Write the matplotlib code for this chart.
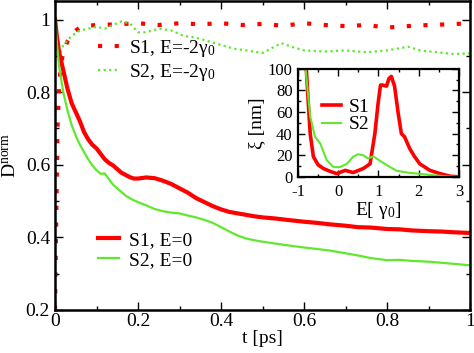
#!/usr/bin/env python3
"""
Normalised diffusion D(t) for S1/S2 at two energies, with xi(E) inset.
"""

import matplotlib
matplotlib.use("Agg")
import matplotlib.pyplot as plt
from matplotlib.ticker import MultipleLocator

plt.rcParams["font.family"] = ["Liberation Serif", "DejaVu Serif"]
plt.rcParams["mathtext.fontset"] = "custom"
plt.rcParams["mathtext.rm"] = "Liberation Serif"
plt.rcParams["mathtext.it"] = "Liberation Serif:italic"

RED = "#ff0000"
GREEN = "#5fe82e"

# --- main panel: E = 0 ---
t_e0 = [0, 0.005, 0.01, 0.02, 0.03, 0.04, 0.05, 0.06, 0.07, 0.08, 0.09,
        0.10, 0.11, 0.12, 0.13, 0.14, 0.15, 0.16, 0.17, 0.18, 0.19, 0.20,
        0.22, 0.24, 0.26, 0.28, 0.30, 0.32, 0.34, 0.36, 0.38, 0.40, 0.42,
        0.44, 0.46, 0.48, 0.50, 0.53, 0.56, 0.60, 0.63, 0.66, 0.70, 0.73,
        0.76, 0.80, 0.83, 0.86, 0.90, 0.93, 0.96, 1.0]
s1_e0 = [1.0, 0.95, 0.91, 0.86, 0.81, 0.77, 0.745, 0.72, 0.69, 0.67, 0.655,
         0.645, 0.63, 0.615, 0.605, 0.598, 0.588, 0.578, 0.572, 0.566, 0.562,
         0.562, 0.565, 0.563, 0.556, 0.547, 0.535, 0.523, 0.508, 0.497,
         0.486, 0.477, 0.47, 0.466, 0.462, 0.458, 0.455, 0.452, 0.448, 0.443,
         0.44, 0.436, 0.432, 0.428, 0.427, 0.423, 0.422, 0.419, 0.417, 0.416,
         0.414, 0.412]
s2_e0 = [1.0, 0.93, 0.87, 0.80, 0.75, 0.71, 0.68, 0.655, 0.635, 0.615, 0.598,
         0.585, 0.575, 0.576, 0.56, 0.545, 0.535, 0.525, 0.515, 0.508, 0.502,
         0.497, 0.488, 0.478, 0.472, 0.468, 0.466, 0.46, 0.455, 0.448, 0.44,
         0.428, 0.416, 0.405, 0.397, 0.392, 0.388, 0.383, 0.378, 0.372,
         0.368, 0.364, 0.356, 0.35, 0.343, 0.337, 0.338, 0.335, 0.333, 0.33,
         0.327, 0.323]

# --- main panel: E = -2 gamma0 ---
t_em2 = [0, 0.003, 0.006, 0.01, 0.015, 0.02, 0.03, 0.04, 0.05, 0.06, 0.08,
         0.10, 0.15, 0.20, 0.25, 0.30, 0.35, 0.40, 0.45, 0.50, 0.55, 0.60,
         0.65, 0.70, 0.75, 0.80, 0.85, 0.90, 0.95, 1.0]
s1_em2 = [0.2, 0.45, 0.7, 0.82, 0.88, 0.91, 0.94, 0.96, 0.97, 0.978, 0.983,
          0.985, 0.987, 0.99, 0.985, 0.99, 0.987, 0.99, 0.985, 0.988, 0.983,
          0.99, 0.985, 0.982, 0.985, 0.978, 0.982, 0.985, 0.987, 0.99]
t_s2m2 = [0, 0.01, 0.02, 0.04, 0.06, 0.08, 0.10, 0.12, 0.14, 0.16, 0.18,
          0.20, 0.22, 0.25, 0.28, 0.31, 0.34, 0.37, 0.40, 0.43, 0.46, 0.50,
          0.52, 0.545, 0.57, 0.60, 0.65, 0.70, 0.75, 0.80, 0.85, 0.88, 0.92,
          0.96, 1.0]
s2_em2 = [0.95, 0.9, 0.93, 0.955, 0.97, 0.975, 0.98, 0.975, 0.985, 0.995,
          0.99, 0.965, 0.965, 0.975, 0.97, 0.955, 0.95, 0.94, 0.93, 0.92,
          0.915, 0.908, 0.92, 0.935, 0.925, 0.915, 0.912, 0.915, 0.91, 0.915,
          0.925, 0.915, 0.91, 0.905, 0.907]

# --- inset: xi(E) ---
e_s1 = [-0.8, -0.75, -0.7, -0.62, -0.5, -0.37, -0.2, -0.04, 0.17, 0.37,
        0.62, 0.79, 0.91, 0.99, 1.05, 1.1, 1.2, 1.26, 1.32, 1.4, 1.49, 1.57,
        1.65, 1.78, 1.9, 2.03, 2.28, 2.53, 2.78, 3.0]
xi_s1 = [102, 70, 40, 18.6, 11, 7.7, 5, 3, 6, 4, 7.7, 12, 40, 68, 85, 85,
         84, 91, 93, 84, 59, 40, 37, 26, 18.6, 12, 6, 3, 0.6, 0]
e_s2 = [-0.82, -0.75, -0.7, -0.58, -0.45, -0.29, -0.12, 0.04, 0.21, 0.37,
        0.5, 0.62, 0.74, 0.87, 0.99, 1.2, 1.45, 1.78, 2.11, 2.45, 2.78, 3.0]
xi_s2 = [102, 75, 56, 37, 31, 15.5, 9, 9, 12, 18.6, 21, 20, 17, 19, 16, 11,
         5.6, 3.7, 2.5, 1.2, 0.3, 0]


def plain(v, _pos):
    return f"{v:g}"


def main() -> None:
    fig = plt.figure(figsize=(4.74, 3.53), dpi=100)
    ax = fig.add_axes([0.116, 0.122, 0.876, 0.876])

    l1, = ax.plot(t_em2, s1_em2, color=RED, lw=3, ls=(0, (1, 3)),
                  label="S1, E=-2γ$_0$")
    l2, = ax.plot(t_s2m2, s2_em2, color=GREEN, lw=1.6, ls=(0, (1, 1.5)),
                  label="S2, E=-2γ$_0$")
    l3, = ax.plot(t_e0, s1_e0, color=RED, lw=3, label="S1, E=0")
    l4, = ax.plot(t_e0, s2_e0, color=GREEN, lw=1.6, label="S2, E=0")

    ax.set_xlim(0, 1)
    ax.set_ylim(0.2, 1.052)
    ax.xaxis.set_major_locator(MultipleLocator(0.2))
    ax.xaxis.set_minor_locator(MultipleLocator(0.1))
    ax.yaxis.set_major_locator(MultipleLocator(0.2))
    ax.yaxis.set_minor_locator(MultipleLocator(0.1))
    ax.xaxis.set_major_formatter(plain)
    ax.yaxis.set_major_formatter(plain)
    ax.tick_params(which="both", direction="in", top=True, right=True,
                   labelsize=14, width=1)
    ax.tick_params(which="major", length=6)
    ax.tick_params(which="minor", length=3)
    ax.tick_params(axis="x", pad=2)
    for sp in ax.spines.values():
        sp.set_linewidth(1.8)
    ax.set_xlabel("t [ps]", fontsize=14, labelpad=0)
    ax.set_ylabel("D$^{\\rm norm}$", fontsize=14, labelpad=0)
    ax.yaxis.set_label_coords(-0.085, 0.5)

    leg1 = ax.legend(handles=[l1, l2], loc="upper left",
                     bbox_to_anchor=(0.085, 0.905), frameon=False, fontsize=14,
                     handlelength=1.1, handletextpad=0.5, labelspacing=0.15,
                     borderaxespad=0)
    ax.add_artist(leg1)
    ax.legend(handles=[l3, l4], loc="upper left", bbox_to_anchor=(0.085, 0.28),
              frameon=False, fontsize=14, handlelength=1.1,
              handletextpad=0.5, labelspacing=0.15, borderaxespad=0)

    # inset
    ins = fig.add_axes([0.629, 0.499, 0.339, 0.306])
    ins.plot(e_s1, xi_s1, color=RED, lw=2.6, label="S1")
    ins.plot(e_s2, xi_s2, color=GREEN, lw=1.5, label="S2")
    ins.set_xlim(-1, 3)
    ins.set_ylim(0, 100)
    ins.xaxis.set_major_locator(MultipleLocator(1))
    ins.xaxis.set_minor_locator(MultipleLocator(0.5))
    ins.yaxis.set_major_locator(MultipleLocator(20))
    ins.yaxis.set_minor_locator(MultipleLocator(10))
    ins.xaxis.set_major_formatter(plain)
    ins.tick_params(which="both", direction="in", top=True, right=True,
                    labelsize=12, width=1)
    ins.tick_params(axis="y", pad=4)
    ins.tick_params(axis="x", pad=5)
    ins.tick_params(which="major", length=5)
    ins.tick_params(which="minor", length=2.5)
    for sp in ins.spines.values():
        sp.set_linewidth(1.6)
    ins.set_xlabel("E[ γ$_0$]", fontsize=14, labelpad=0)
    ins.set_ylabel("ξ [nm]", fontsize=14, labelpad=2)
    ins.legend(loc="upper left", bbox_to_anchor=(0.1, 0.8), frameon=False,
               fontsize=14, handlelength=1.0, handletextpad=0.4,
               labelspacing=0.0, borderaxespad=0)

    fig.savefig("out.png", dpi=100)
    plt.close(fig)


if __name__ == "__main__":
    main()
